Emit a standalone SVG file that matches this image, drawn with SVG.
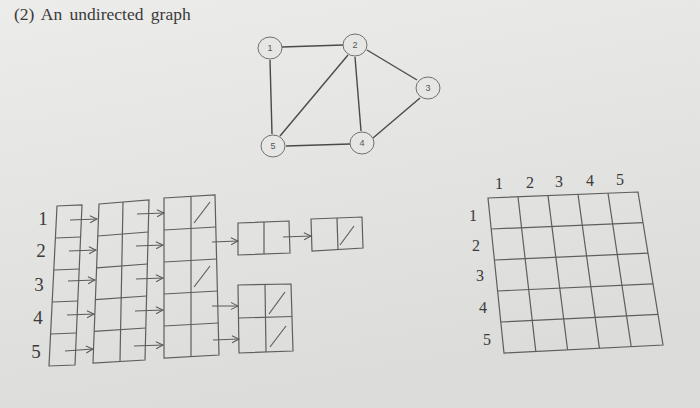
<svg xmlns="http://www.w3.org/2000/svg" width="700" height="408" viewBox="0 0 700 408">
<defs>
<linearGradient id="bg" x1="0" y1="0" x2="0.3" y2="1">
<stop offset="0" stop-color="#ececea"/>
<stop offset="1" stop-color="#dcdcda"/>
</linearGradient>
<marker id="ah" markerWidth="10" markerHeight="10" refX="8" refY="5" orient="auto" markerUnits="userSpaceOnUse">
<polyline points="1,1.5 8,5 1,8.5" fill="none" stroke="#5a5a5a" stroke-width="1"/>
</marker>
<style>
.ln{stroke:#5e5e5e;stroke-width:1.2;fill:none}
.ed{stroke:#4a4a4a;stroke-width:1.4;fill:none}
.ar{stroke:#5a5a5a;stroke-width:1;fill:none;marker-end:url(#ah)}
.nd{fill:#e6e6e4;stroke:#707070;stroke-width:1}
.nl{font-family:"Liberation Sans",Arial,sans-serif;font-size:9px;fill:#555;text-anchor:middle}
.lb{font-family:"Liberation Serif","Times New Roman",serif;font-size:19px;fill:#3a3a3a;text-anchor:middle}
.lbs{font-family:"Liberation Serif","Times New Roman",serif;font-size:16px;fill:#3a3a3a;text-anchor:middle}
</style>
</defs>
<rect width="700" height="408" fill="url(#bg)"/>
<text x="14" y="20" font-family="Liberation Serif,Times New Roman,serif" font-size="17.5" word-spacing="3" fill="#3a3a3a">(2) An undirected graph</text>

<g id="edges">
<line class="ed" x1="282" y1="47" x2="343" y2="45"/>
<line class="ed" x1="270" y1="60" x2="272" y2="134"/>
<line class="ed" x1="348" y1="55" x2="280" y2="136"/>
<line class="ed" x1="355" y1="57" x2="361" y2="131"/>
<line class="ed" x1="367" y1="50" x2="417" y2="80"/>
<line class="ed" x1="420" y1="98" x2="373" y2="138"/>
<line class="ed" x1="286" y1="146" x2="350" y2="144"/>
</g>
<g id="n1"><ellipse class="nd" cx="270" cy="48" rx="12" ry="11"/><text class="nl" x="270" y="51">1</text></g>
<g id="n2"><ellipse class="nd" cx="355" cy="45" rx="12" ry="11"/><text class="nl" x="355" y="48">2</text></g>
<g id="n3"><ellipse class="nd" cx="428" cy="88" rx="12" ry="11"/><text class="nl" x="428" y="91">3</text></g>
<g id="n4"><ellipse class="nd" cx="362" cy="143" rx="12" ry="11"/><text class="nl" x="362" y="146">4</text></g>
<g id="n5"><ellipse class="nd" cx="273" cy="146" rx="12" ry="11"/><text class="nl" x="273" y="149">5</text></g>

<g id="row-labels">
<text class="lb" x="43" y="225">1</text>
<text class="lb" x="41" y="257">2</text>
<text class="lb" x="39" y="291">3</text>
<text class="lb" x="38" y="324">4</text>
<text class="lb" x="36" y="358">5</text>
</g>

<g id="heads">
<polygon class="ln" points="57,206 82,205 75,365 49,366"/>
<line class="ln" x1="55.5" y1="238" x2="80.6" y2="237"/>
<line class="ln" x1="53.9" y1="270" x2="79.2" y2="269"/>
<line class="ln" x1="52.2" y1="302" x2="77.8" y2="301"/>
<line class="ln" x1="50.6" y1="334" x2="76.4" y2="333"/>
</g>

<g id="list-col2">
<polygon class="ln" points="99,204 149,200 145,360 93,363"/>
<line class="ln" x1="123" y1="202" x2="120" y2="361.5"/>
<line class="ln" x1="97.8" y1="236" x2="148.2" y2="232"/>
<line class="ln" x1="96.6" y1="267.8" x2="147.4" y2="264"/>
<line class="ln" x1="95.4" y1="299.6" x2="146.6" y2="296"/>
<line class="ln" x1="94.2" y1="331.4" x2="145.8" y2="328"/>
</g>

<g id="list-col3">
<polygon class="ln" points="164,198 215,195 219,355 164,358"/>
<line class="ln" x1="191" y1="196.5" x2="191" y2="356.5"/>
<line class="ln" x1="164" y1="230" x2="215.8" y2="227"/>
<line class="ln" x1="164" y1="262" x2="216.6" y2="259"/>
<line class="ln" x1="164" y1="294" x2="217.4" y2="291"/>
<line class="ln" x1="164" y1="326" x2="218.2" y2="323"/>
<line class="ln" x1="194" y1="223" x2="210" y2="202"/>
<line class="ln" x1="194" y1="287" x2="210" y2="266"/>
</g>

<g id="node-a">
<polygon class="ln" points="238,223 289,221 290,253 238,255"/>
<line class="ln" x1="264" y1="222" x2="264" y2="254"/>
</g>
<g id="node-b">
<polygon class="ln" points="311,219 362,217 363,248 312,251"/>
<line class="ln" x1="337" y1="218" x2="338" y2="249.5"/>
<line class="ln" x1="340" y1="245" x2="354" y2="226"/>
</g>
<g id="node-c">
<polygon class="ln" points="238,285 291,284 293,351 239,353"/>
<line class="ln" x1="265" y1="284.5" x2="266" y2="352"/>
<line class="ln" x1="238.5" y1="318" x2="292" y2="316.5"/>
<line class="ln" x1="269" y1="314" x2="285" y2="292"/>
<line class="ln" x1="270" y1="347" x2="286" y2="326"/>
</g>

<g id="connectors">
<line class="ar" x1="70" y1="220" x2="97" y2="219"/>
<line class="ar" x1="69" y1="251" x2="96" y2="250"/>
<line class="ar" x1="68" y1="281" x2="95" y2="280"/>
<line class="ar" x1="67" y1="315" x2="94" y2="314"/>
<line class="ar" x1="65" y1="351" x2="93" y2="349"/>
<line class="ar" x1="137" y1="214" x2="164" y2="213"/>
<line class="ar" x1="136" y1="246" x2="163" y2="245"/>
<line class="ar" x1="136" y1="279" x2="163" y2="278"/>
<line class="ar" x1="135" y1="311" x2="163" y2="310"/>
<line class="ar" x1="134" y1="346" x2="163" y2="345"/>
<line class="ar" x1="212" y1="242" x2="238" y2="241"/>
<line class="ar" x1="212" y1="306" x2="238" y2="306"/>
<line class="ar" x1="213" y1="340" x2="239" y2="339"/>
<line class="ar" x1="283" y1="237" x2="311" y2="236"/>
</g>

<g id="matrix">
<polygon class="ln" points="488,198 638,192 663,345 504,353"/>
<line class="ln" x1="518" y1="196.8" x2="535.8" y2="351.4"/>
<line class="ln" x1="548" y1="195.6" x2="567.6" y2="349.8"/>
<line class="ln" x1="578" y1="194.4" x2="599.4" y2="348.2"/>
<line class="ln" x1="608" y1="193.2" x2="631.2" y2="346.6"/>
<line class="ln" x1="491.2" y1="229" x2="643" y2="222.6"/>
<line class="ln" x1="494.4" y1="260" x2="648" y2="253.2"/>
<line class="ln" x1="497.6" y1="291" x2="653" y2="283.8"/>
<line class="ln" x1="500.8" y1="322" x2="658" y2="314.4"/>
<text class="lbs" x="499" y="189">1</text>
<text class="lbs" x="530" y="188">2</text>
<text class="lbs" x="559" y="187">3</text>
<text class="lbs" x="590" y="186">4</text>
<text class="lbs" x="620" y="185">5</text>
<text class="lbs" x="473" y="221">1</text>
<text class="lbs" x="476" y="251">2</text>
<text class="lbs" x="480" y="281">3</text>
<text class="lbs" x="483" y="313">4</text>
<text class="lbs" x="487" y="345">5</text>
</g>
</svg>
